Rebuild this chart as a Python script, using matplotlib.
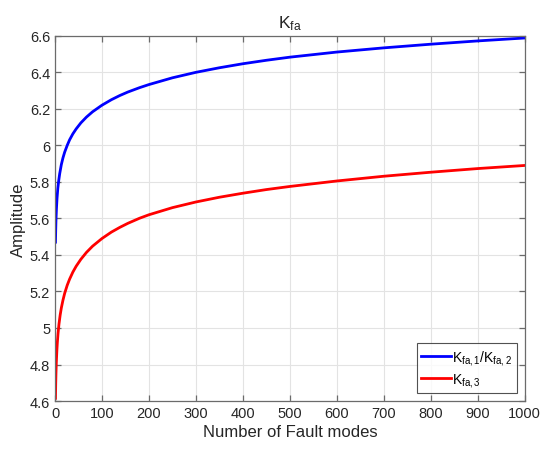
import numpy as np
import matplotlib
matplotlib.use("Agg")
import matplotlib.pyplot as plt

plt.rcParams['font.family'] = ['Liberation Sans', 'DejaVu Sans']
plt.rcParams['mathtext.fontset'] = 'custom'
plt.rcParams['mathtext.rm'] = 'Liberation Sans'
plt.rcParams['mathtext.it'] = 'Liberation Sans'

# values
x_blue = [1, 1.5, 2, 3, 4.3, 6, 7.8, 10, 13.5, 17, 20.6, 26, 31, 38, 45, 55, 67, 80,
          100, 120, 138, 155, 180, 200, 250, 300, 350, 400, 450, 500, 600, 700, 800, 900, 1000]
k_fa12 = [5.47, 5.535, 5.585, 5.65, 5.71, 5.765, 5.805, 5.845, 5.895, 5.932, 5.963, 6.0,
          6.03, 6.063, 6.09, 6.123, 6.155, 6.184, 6.22, 6.25, 6.273, 6.292, 6.316, 6.333,
          6.37, 6.4, 6.425, 6.447, 6.466, 6.483, 6.511, 6.534, 6.554, 6.572, 6.588]

x_red = [1, 1.5, 2, 2.8, 4, 5, 6.5, 8.5, 11, 13.5, 17, 20.6, 26, 31, 38, 45, 55, 67, 80,
         100, 120, 138, 155, 180, 200, 250, 300, 350, 400, 450, 500, 600, 700, 800, 900, 1000]
k_fa3 = [4.615, 4.692, 4.747, 4.811, 4.878, 4.921, 4.971, 5.022, 5.071, 5.11, 5.153, 5.19,
         5.234, 5.267, 5.306, 5.338, 5.376, 5.414, 5.448, 5.49, 5.525, 5.551, 5.573, 5.601,
         5.62, 5.659, 5.69, 5.716, 5.738, 5.758, 5.775, 5.805, 5.831, 5.853, 5.873, 5.89]

xticks = np.arange(0, 1001, 100)
yticks = [4.6, 4.8, 5.0, 5.2, 5.4, 5.6, 5.8, 6.0, 6.2, 6.4, 6.6]
ytick_labels = ['4.6', '4.8', '5', '5.2', '5.4', '5.6', '5.8', '6', '6.2', '6.4', '6.6']

fig = plt.figure(figsize=(5.5, 4.6), dpi=100)
ax = fig.add_axes([0.1, 0.126, 0.854, 0.794])

ax.plot(x_blue, k_fa12, color=(0, 0, 1), lw=2, label=r'K$_{\rm fa,1}$/K$_{\rm fa,2}$')
ax.plot(x_red, k_fa3, color=(1, 0, 0), lw=2, label=r'K$_{\rm fa,3}$')

ax.set_xlim(0, 1000)
ax.set_ylim(4.6, 6.6)
ax.set_xticks(xticks)
ax.set_yticks(yticks)
ax.set_yticklabels(ytick_labels)
ax.grid(True, color='#e3e3e3', lw=0.8)
ax.set_axisbelow(True)

for s in ax.spines.values():
    s.set_color('#6b6b6b')
    s.set_linewidth(0.9)
ax.tick_params(direction='in', top=True, right=True, length=4, width=0.9,
               color='#6b6b6b', labelsize=10.5, labelcolor='#262626')

ax.set_xlabel('Number of Fault modes', fontsize=12, color='#262626', labelpad=3)
ax.set_ylabel('Amplitude', fontsize=12, color='#262626', labelpad=3)
ax.set_title(r'K$_{\rm fa}$', fontsize=12.5, color='#262626', pad=6)

leg = ax.legend(loc='lower right', fontsize=10, frameon=True, fancybox=False,
                handlelength=2.1, handletextpad=0.1, borderpad=0.35,
                labelspacing=0.25, borderaxespad=0.55)
leg.get_frame().set_edgecolor('#262626')
leg.get_frame().set_linewidth(0.8)

fig.savefig('out.png', dpi=100)
